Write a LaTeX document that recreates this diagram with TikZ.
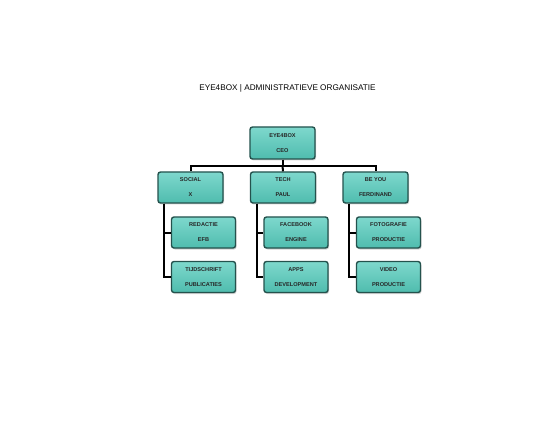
\documentclass[tikz,border=0pt]{standalone}
\usepackage{fontspec}
\setmainfont{Liberation Sans}
\usetikzlibrary{shadows}
\definecolor{boxtop}{HTML}{7ED8CD}
\definecolor{boxbot}{HTML}{4FBCAE}
\definecolor{boxline}{HTML}{24524D}
\tikzset{
  unit/.style={rectangle,rounded corners=2.5pt,draw=boxline,line width=1.4pt,
    top color=boxtop,bottom color=boxbot,minimum width=64pt,minimum height=31pt,
    align=center,font=\fontsize{5.6}{15}\selectfont\bfseries,text=black!85,
    drop shadow={shadow xshift=1pt,shadow yshift=-1.5pt,opacity=0.35}},
  conn/.style={line width=2pt,black}
}
\begin{document}
\begin{tikzpicture}[x=1pt,y=-1pt]
  \useasboundingbox (0,0) rectangle (560,433);
  % title
  \node[at={(287.5,88)},font=\fontsize{8.2}{10}\selectfont] (title) {EYE4BOX | ADMINISTRATIEVE ORGANISATIE};

  % top
  \node[unit,minimum width=65pt,minimum height=32pt,at={(282.5,143)}] (ceo) {EYE4BOX\\CEO};

  % departments
  \node[unit,minimum width=65pt,at={(190.5,187.5)}] (social) {SOCIAL\\X};
  \node[unit,minimum width=65pt,at={(283,187.5)}] (tech) {TECH\\PAUL};
  \node[unit,minimum width=65pt,at={(375.5,187.5)}] (beyou) {BE YOU\\FERDINAND};

  % units
  \node[unit,at={(203.5,232.5)}] (redactie) {REDACTIE\\EFB};
  \node[unit,at={(203.5,277)}] (tijdschrift) {TIJDSCHRIFT\\PUBLICATIES};
  \node[unit,at={(296,232.5)}] (facebook) {FACEBOOK\\ENGINE};
  \node[unit,at={(296,277)}] (apps) {APPS\\DEVELOPMENT};
  \node[unit,at={(388.5,232.5)}] (fotografie) {FOTOGRAFIE\\PRODUCTIE};
  \node[unit,at={(388.5,277)}] (video) {VIDEO\\PRODUCTIE};

  % edges
  \draw[conn] (ceo.south) -- ++(0,6) coordinate (bus) -| (social.north);
  \draw[conn] (bus) -| (beyou.north);
  \draw[conn] (bus) -- (tech.north);
  %branches
  \draw[conn] ([xshift=7pt]social.south west) |- (redactie.west);
  \draw[conn] ([xshift=7pt]social.south west) |- (tijdschrift.west);
  \draw[conn] ([xshift=7pt]tech.south west) |- (facebook.west);
  \draw[conn] ([xshift=7pt]tech.south west) |- (apps.west);
  \draw[conn] ([xshift=7pt]beyou.south west) |- (fotografie.west);
  \draw[conn] ([xshift=7pt]beyou.south west) |- (video.west);
\end{tikzpicture}
\end{document}
